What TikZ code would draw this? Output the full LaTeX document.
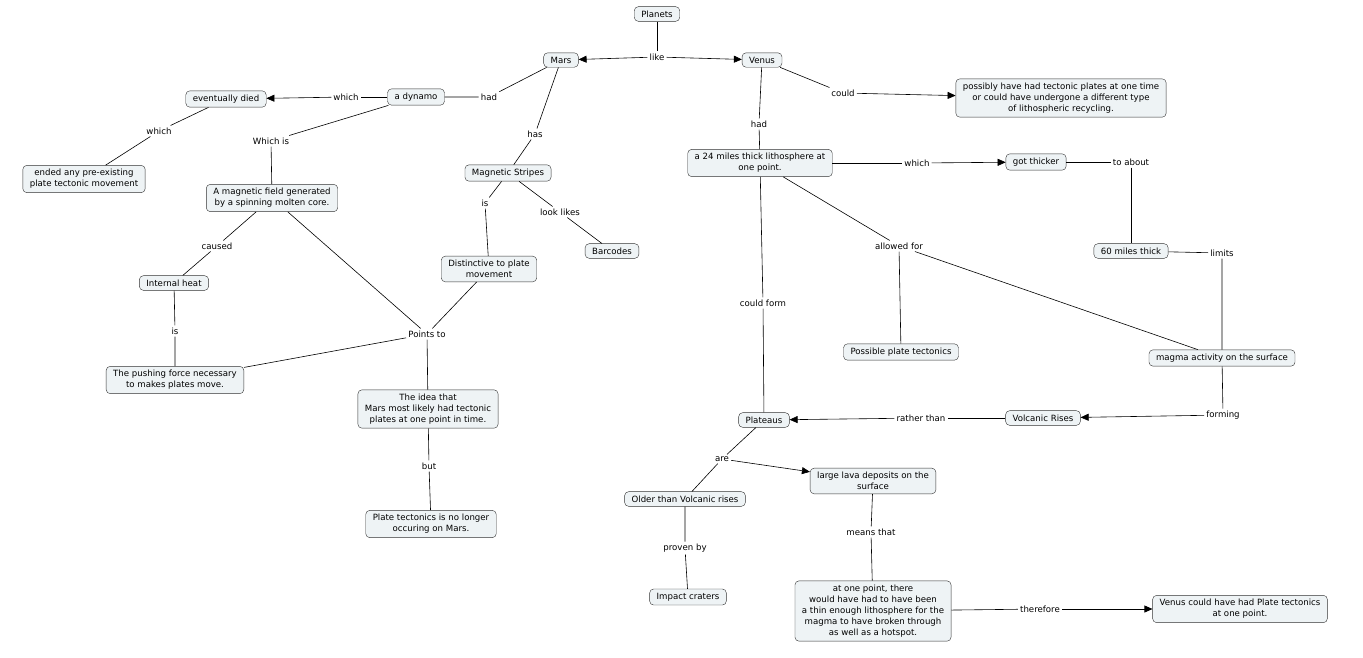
\documentclass[tikz,border=0pt]{standalone}
\usepackage{fontspec}
\setmainfont{DejaVu Sans}
\usetikzlibrary{arrows.meta}
\definecolor{cfill}{HTML}{EEF3F5}
\begin{document}
\begin{tikzpicture}[x=1pt,y=-1pt,
  every node/.style={font=\fontsize{8.6}{11}\selectfont, align=center},
  concept/.style={draw=black!80, fill=cfill, rounded corners=4pt, inner xsep=7pt, inner ysep=4pt},
  link/.style={fill=white, inner sep=2pt},
  conn/.style={draw=black, line width=0.6pt},
  arr/.style={conn, -{Triangle[length=8pt,width=7pt]}}]

  \useasboundingbox (0,0) rectangle (1363,657);

  %%% Mars side
  \node[concept] (planets) at (657,14) {Planets};
  \node[concept] (mars) at (561,60) {Mars};
  \node[concept] (venus) at (762,60) {Venus};
  \node[link] (like) at (657,57) {like};
  \node[concept] (dynamo) at (416,97) {a dynamo};
  \node[link] (had1) at (489,97) {had};
  \node[concept] (died) at (226,99) {eventually died};
  \node[link] (which1) at (346,97) {which};
  \node[link] (which2) at (159,131) {which};
  \node[concept] (ended) at (84,179) {ended any pre-existing\\plate tectonic movement};
  \node[link] (whichis) at (271,141) {Which is};
  \node[concept] (field) at (272,198) {A magnetic field generated\\by a spinning molten core.};
  \node[link] (has) at (535,134) {has};
  \node[concept] (stripes) at (508,173) {Magnetic Stripes};
  \node[link] (is1) at (485,203) {is};
  \node[link] (looks) at (560,212) {look likes};
  \node[concept] (barcodes) at (612,251) {Barcodes};
  \node[concept] (distinct) at (489,269) {Distinctive to plate\\movement};
  \node[link] (caused) at (217,246) {caused};
  \node[concept] (heat) at (174,283) {Internal heat};
  \node[link] (is2) at (175,331) {is};
  \node[link] (points) at (427,334) {Points to};
  \node[concept] (force) at (175,380) {The pushing force necessary\\to makes plates move.};
  \node[concept] (idea) at (428,409) {The idea that\\Mars most likely had tectonic\\plates at one point in time.};
  \node[link] (but) at (429,466) {but};
  \node[concept] (nolonger) at (431,524) {Plate tectonics is no longer\\occuring on Mars.};

  %%% Venus side
  \node[link] (had2) at (759,124) {had};
  \node[link] (could) at (843,93) {could};
  \node[concept] (possibly) at (1061,98) {possibly have had tectonic plates at one time\\or could have undergone a different type\\of lithospheric recycling.};
  \node[concept] (litho) at (760,163) {a 24 miles thick lithosphere at\\one point.};
  \node[link] (which3) at (917,163) {which};
  \node[concept] (thicker) at (1036,162) {got thicker};
  \node[link] (toabout) at (1131,162) {to about};
  \node[concept] (sixty) at (1131,251) {60 miles thick};
  \node[link] (limits) at (1222,253) {limits};
  \node[link] (allowed) at (899,246) {allowed for};
  \node[concept] (possible) at (901,352) {Possible plate tectonics};
  \node[concept] (magma) at (1222,358) {magma activity on the surface};
  \node[link] (couldform) at (763,303) {could form};
  \node[link] (forming) at (1223,415) {forming};
  \node[concept] (rises) at (1043,418) {Volcanic Rises};
  \node[link] (rather) at (921,418) {rather than};
  \node[concept] (plateaus) at (764,420) {Plateaus};
  \node[link] (are) at (722,459) {are};
  \node[concept] (lava) at (873,481) {large lava deposits on the\\surface};
  \node[concept] (older) at (685,499) {Older than Volcanic rises};
  \node[link] (proven) at (685,548) {proven by};
  \node[concept] (craters) at (688,597) {Impact craters};
  \node[link] (means) at (871,532) {means that};
  \node[concept] (thin) at (873,611) {at one point, there\\would have had to have been\\a thin enough lithosphere for the\\magma to have broken through\\as well as a hotspot.};
  \node[link] (therefore) at (1040,609) {therefore};
  \node[concept] (venuscould) at (1240,609) {Venus could have had Plate tectonics\\at one point.};

  % connectors
  \draw[conn] (planets) -- (like);
  \draw[arr] (like) -- (mars);
  \draw[arr] (like) -- (venus);
  \draw[conn] (mars) -- (had1) -- (dynamo);
  \draw[conn] (dynamo) -- (which1);
  \draw[arr] (which1) -- (died);
  \draw[conn] (died) -- (which2) -- (ended);
  \draw[conn] (dynamo) -- (whichis) -- (field);
  \draw[conn] (mars) -- (has) -- (stripes);
  \draw[conn] (stripes) -- (is1) -- (distinct);
  \draw[conn] (stripes) -- (looks) -- (barcodes);
  \draw[conn] (field) -- (caused) -- (heat);
  \draw[conn] (heat) -- (is2) -- (force);
  \draw[conn] (field) -- (points);
  \draw[conn] (distinct) -- (points);
  \draw[conn] (points) -- (force);
  \draw[conn] (points) -- (idea);
  \draw[conn] (idea) -- (but) -- (nolonger);
  \draw[conn] (venus) -- (had2) -- (litho);
  \draw[conn] (venus) -- (could);
  \draw[arr] (could) -- (possibly);
  \draw[conn] (litho) -- (which3);
  \draw[arr] (which3) -- (thicker);
  \draw[conn] (thicker) -- (toabout) -- (sixty);
  \draw[conn] (sixty) -- (limits) -- (magma);
  \draw[conn] (litho) -- (allowed) -- (possible);
  \draw[conn] (allowed) -- (magma);
  \draw[conn] (litho) -- (couldform) -- (plateaus);
  \draw[conn] (magma) -- (forming);
  \draw[arr] (forming) -- (rises);
  \draw[conn] (rises) -- (rather);
  \draw[arr] (rather) -- (plateaus);
  \draw[conn] (plateaus) -- (are);
  \draw[arr] (are) -- (lava);
  \draw[conn] (are) -- (older);
  \draw[conn] (older) -- (proven) -- (craters);
  \draw[conn] (lava) -- (means) -- (thin);
  \draw[conn] (thin) -- (therefore);
  \draw[arr] (therefore) -- (venuscould);
\end{tikzpicture}
\end{document}
